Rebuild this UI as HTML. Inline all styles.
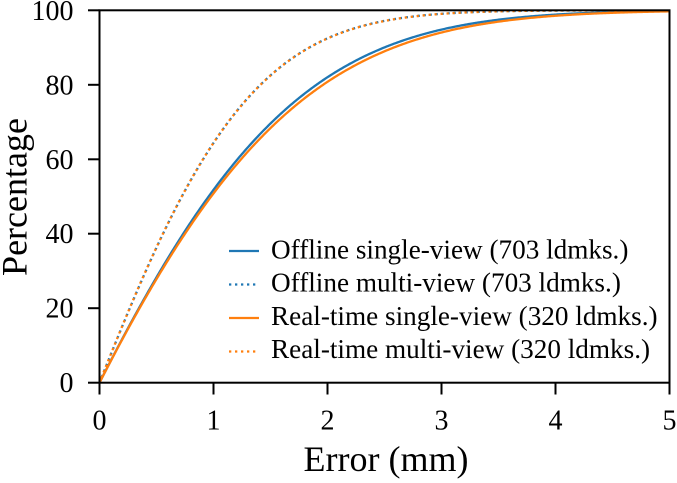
<!DOCTYPE html>
<html>
<head>
<meta charset="utf-8">
<style>
  html, body { margin: 0; padding: 0; background: #ffffff; }
  svg { display: block; }
  text { font-family: "Liberation Serif", "Times New Roman", serif; fill: #000; }
</style>
</head>
<body>
<svg id="fig" width="677" height="483" viewBox="0 0 677 483" xmlns="http://www.w3.org/2000/svg">
  <rect x="0" y="0" width="677" height="483" fill="#ffffff"/>
  <defs>
    <clipPath id="ax">
      <rect x="99.5" y="10.3" width="570" height="372.4"/>
    </clipPath>
  </defs>

  <g clip-path="url(#ax)" fill="none" stroke-width="2.3">
    <path id="c1" stroke="#1f77b4" stroke-linejoin="round" d=""/>
    <path id="c2" stroke="#1f77b4" stroke-dasharray="2.3 3.7" d=""/>
    <path id="c3" stroke="#ff7f0e" stroke-linejoin="round" d=""/>
    <path id="c4" stroke="#ff7f0e" stroke-dasharray="2.3 3.7" stroke-dashoffset="1" d=""/>
  </g>

  <!-- spines -->
  <rect x="99.5" y="10.3" width="570" height="372.4" fill="none" stroke="#000" stroke-width="2"/>

  <!-- y ticks -->
  <g stroke="#000" stroke-width="2">
    <line x1="88" y1="382.7" x2="99.5" y2="382.7"/>
    <line x1="88" y1="308.2" x2="99.5" y2="308.2"/>
    <line x1="88" y1="233.7" x2="99.5" y2="233.7"/>
    <line x1="88" y1="159.3" x2="99.5" y2="159.3"/>
    <line x1="88" y1="84.8" x2="99.5" y2="84.8"/>
    <line x1="88" y1="10.3" x2="99.5" y2="10.3"/>
  </g>
  <!-- x ticks -->
  <g stroke="#000" stroke-width="2">
    <line x1="99.5" y1="382.7" x2="99.5" y2="394.5"/>
    <line x1="213.5" y1="382.7" x2="213.5" y2="394.5"/>
    <line x1="327.5" y1="382.7" x2="327.5" y2="394.5"/>
    <line x1="441.5" y1="382.7" x2="441.5" y2="394.5"/>
    <line x1="555.5" y1="382.7" x2="555.5" y2="394.5"/>
    <line x1="669.5" y1="382.7" x2="669.5" y2="394.5"/>
  </g>

  <!-- y tick labels -->
  <g font-size="28" text-anchor="end">
    <text x="73.5" y="392.2">0</text>
    <text x="73.5" y="317.7">20</text>
    <text x="73.5" y="243.2">40</text>
    <text x="73.5" y="168.8">60</text>
    <text x="73.5" y="94.3">80</text>
    <text x="73.5" y="19.8">100</text>
  </g>
  <!-- x tick labels -->
  <g font-size="28" text-anchor="middle">
    <text x="99.5" y="429.5">0</text>
    <text x="213.5" y="429.5">1</text>
    <text x="327.5" y="429.5">2</text>
    <text x="441.5" y="429.5">3</text>
    <text x="555.5" y="429.5">4</text>
    <text x="669.5" y="429.5">5</text>
  </g>

  <!-- axis labels -->
  <text x="386" y="471" font-size="36" text-anchor="middle">Error (mm)</text>
  <text transform="translate(26.5,197) rotate(-90)" x="0" y="0" font-size="36" text-anchor="middle">Percentage</text>

  <!-- legend -->
  <g stroke-width="2.3" fill="none">
    <line x1="229" y1="251" x2="259" y2="251" stroke="#1f77b4"/>
    <line x1="229" y1="284.5" x2="259" y2="284.5" stroke="#1f77b4" stroke-dasharray="2.3 3.7"/>
    <line x1="229" y1="318" x2="259" y2="318" stroke="#ff7f0e"/>
    <line x1="229" y1="351.5" x2="259" y2="351.5" stroke="#ff7f0e" stroke-dasharray="2.3 3.7"/>
  </g>
  <g font-size="27.2">
    <text x="271" y="258.3">Offline single-view (703 ldmks.)</text>
    <text x="271" y="291.6">Offline multi-view (703 ldmks.)</text>
    <text x="271" y="324.9">Real-time single-view (320 ldmks.)</text>
    <text x="271" y="358.2">Real-time multi-view (320 ldmks.)</text>
  </g>
</svg>
<script>
(function(){
  function mk(a,b){
    var d='';
    for(var i=0;i<=520;i++){
      var x=i*0.01;
      var F=1-Math.exp(-(a*x+b*x*x));
      var px=99.5+114*x, py=382.7-372.4*F;
      d+=(i?'L':'M')+px.toFixed(2)+' '+py.toFixed(2);
    }
    return d;
  }
  document.getElementById('c1').setAttribute('d',mk(0.601,0.1286));
  document.getElementById('c2').setAttribute('d',mk(0.770,0.262));
  document.getElementById('c3').setAttribute('d',mk(0.595,0.115));
  document.getElementById('c4').setAttribute('d',mk(0.775,0.258));
})();
</script>
</body>
</html>
